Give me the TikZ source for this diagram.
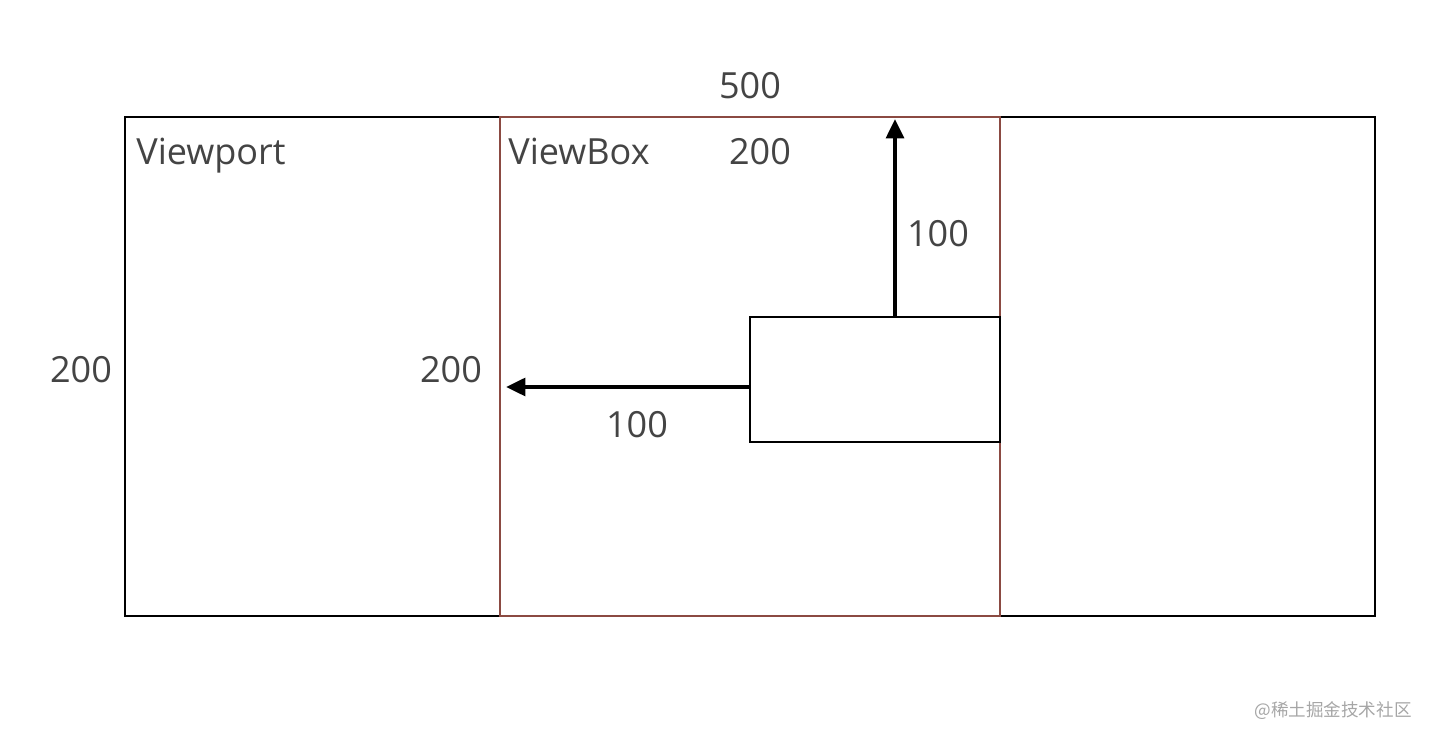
\documentclass[tikz,border=0pt]{standalone}
\usepackage{fontspec}
\setmainfont{Open Sans}
\newfontfamily\cjk{Noto Sans CJK SC}
\usetikzlibrary{arrows.meta}
\definecolor{txt}{HTML}{444444}
\definecolor{vb}{HTML}{8B4A42}
\begin{document}
\begin{tikzpicture}[x=0.02cm,y=-0.02cm,
  lbl/.style={text=txt,font=\fontsize{20.5}{24}\selectfont,inner sep=0pt},
  arr/.style={line width=2.3pt,-{Triangle[length=11pt,width=10pt]}}]
\useasboundingbox (0,0) rectangle (1434,742);
\draw[line width=1.5pt] (125,117) rectangle (1375,616);
\draw[vb,line width=1.5pt] (500,117) rectangle (1000,616);
\node[draw,line width=1.5pt,minimum width=250*0.02cm,minimum height=125*0.02cm,inner sep=0pt] (box) at (875,379.5) {};
\coordinate (upend) at (895,119);
\coordinate (leftend) at (506,387);
\coordinate (upstart) at (895,317);
\coordinate (leftstart) at (749,387);
\draw[arr] (upstart) -- (upend);
\draw[arr] (leftstart) -- (leftend);
\node[lbl] (t500) at (750,86) {500};
\node[lbl,anchor=base west] (vp) at (136,165) {Viewport};
\node[lbl,anchor=base west] (vbx) at (508,165) {ViewBox};
\node[lbl] (w200) at (760,152) {200};
\node[lbl] (u100) at (938,234) {100};
\node[lbl] (h200a) at (81,370) {200};
\node[lbl] (h200b) at (451,370) {200};
\node[lbl] (l100) at (637,425) {100};
\node[text=gray!70,font=\cjk\fontsize{10}{12}\selectfont,inner sep=0pt] (wm) at (1333,711) {@稀土掘金技术社区};
\end{tikzpicture}
\end{document}
